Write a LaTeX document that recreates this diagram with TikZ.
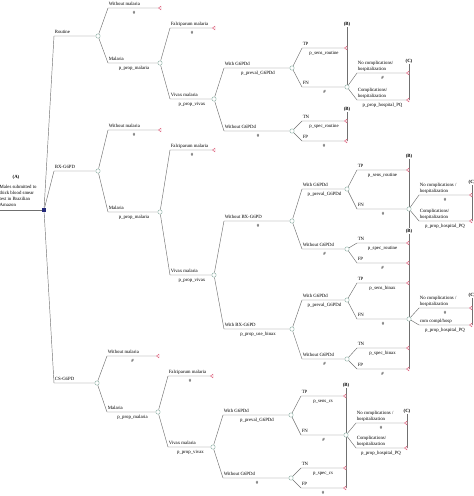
\documentclass[tikz,border=0pt]{standalone}
\usepackage{fontspec}
\setmainfont{Liberation Serif}
\usetikzlibrary{calc,shapes.geometric}
\pgfdeclarelayer{bg}
\pgfsetlayers{bg,main}
\definecolor{edgec}{HTML}{707070}
\definecolor{termc}{HTML}{D9506E}
\definecolor{chc}{HTML}{8FB0A6}
\definecolor{decc}{HTML}{23287A}
\newcommand\tsz{\fontsize{4.8}{5.6}\selectfont}
\tikzset{
 edge/.style={draw=edgec, line width=0.45pt},
 chance/.style={circle, draw=chc, fill=white, line width=0.45pt, inner sep=0pt, minimum size=4.4pt},
 term/.style={isosceles triangle, shape border rotate=180, isosceles triangle stretches, minimum width=3.6pt, minimum height=2.6pt, inner sep=0pt, outer sep=0pt, draw=termc, fill=white, line width=0.4pt, anchor=lower side},
 decis/.style={rectangle, fill=decc, inner sep=0pt, minimum size=4.4pt},
 lab/.style={anchor=south west, inner sep=0pt, text depth=0pt, font=\tsz, align=left},
 prob/.style={anchor=base, inner sep=0pt, font=\tsz},
 tag/.style={inner sep=0.6pt, fill=white, font=\tsz\bfseries}
}
\newcommand\br[6]{%
 \node[#3] (#2) at (#4) {};
 \coordinate (#2k) at ($(#1 |- #2)+(10,0)$);
 \begin{pgfonlayer}{bg}\draw[edge] (#1) -- (#2k) -- (#2);\end{pgfonlayer}
 \node[lab] at ($(#2k)+(0.6,-2.4)$) {#5};
 \node[prob] at ($(#2k)!0.5!(#2)+(0,6.4)$) {#6};
}
\begin{document}
\begin{tikzpicture}[x=1pt,y=-1pt]
\useasboundingbox (0,0) rectangle (474,496);
% root
\node[decis] (root) at (44,210) {};
\coordinate (in) at (0,210);
\begin{pgfonlayer}{bg}\draw[edge] (in) -- (root);\end{pgfonlayer}
\node[font=\tsz\bfseries, inner sep=0pt] (A) at (16,177) {(A)};
\node[anchor=north west, inner sep=0pt, font=\fontsize{4.8}{6.2}\selectfont, align=left] (Atext) at (-0.5,184.5) {Males submitted to\\thick blood smear\\test in Brazilian\\Amazon};
% level 1
\br{root}{R}{chance}{98,36}{Routine}{}
\br{root}{B}{chance}{98,171}{BX-G6PD}{}
\br{root}{C}{chance}{97,383}{CS-G6PD}{}
% ---------------- Routine
\br{R}{Rwm}{term}{161,8}{Without malaria}{\#}
\br{R}{Rm}{chance}{160,63}{Malaria}{p\_prop\_malaria}
\br{Rm}{Rf}{term}{215,28}{Falciparum malaria}{\#}
\br{Rm}{Rv}{chance}{214,99}{Vivax malaria}{p\_prop\_vivax}
\br{Rv}{Rwg}{chance}{292,68}{With G6PDd}{p\_preval\_G6PDd}
\br{Rv}{Rng}{chance}{292,131}{Without G6PDd}{\#}
\br{Rwg}{Rtp}{term}{347,48}{TP}{p\_sens\_routine}
\br{Rwg}{Rfn}{chance}{347,87}{FN}{\#}
\br{Rfn}{Rnc}{term}{409,73}{No complications/\\hospitalization}{\#}
\br{Rfn}{Rc}{term}{409,100}{Complications/\\hospitalization}{p\_prop\_hospital\_PQ}
\br{Rng}{Rtn}{term}{347,121}{TN}{p\_spec\_routine}
\br{Rng}{Rfp}{term}{347,141}{FP}{\#}
\node[tag] (RB1) at (347,24) {(B)};
\node[tag] (RB2) at (347,109) {(B)};
\node[tag] (RC1) at (409,61) {(C)};
\begin{pgfonlayer}{bg}
\draw[edge] (RB1) -- (Rfn);
\draw[edge] (RB2) -- (Rfp.lower side);
\draw[edge] (RC1) -- (Rc.lower side);
\end{pgfonlayer}
% ---------------- BX-G6PD
\br{B}{Bwm}{term}{161,130}{Without malaria}{\#}
\br{B}{Bm}{chance}{160,212}{Malaria}{p\_prop\_malaria}
\br{Bm}{Bf}{term}{215,150}{Falciparum malaria}{\#}
\br{Bm}{Bv}{chance}{214,275}{Vivax malaria}{p\_prop\_vivax}
\br{Bv}{Bwo}{chance}{292,221}{Without BX-G6PD}{\#}
\br{Bv}{Bwi}{chance}{292,329}{With BX-G6PD}{p\_prop\_use\_binax}
\br{Bwo}{Bowg}{chance}{347,189}{With G6PDd}{p\_preval\_G6PDd}
\br{Bwo}{Bong}{chance}{347,249}{Without G6PDd}{\#}
\br{Bowg}{Bttp}{term}{409,170}{TP}{p\_sens\_routine}
\br{Bowg}{Btfn}{chance}{409,209}{FN}{\#}
\br{Btfn}{Btnc}{term}{472,195}{No complications /\\hospitalization}{\#}
\br{Btfn}{Btc}{term}{472,221}{Complications/\\hospitalization}{p\_prop\_hospital\_PQ}
\br{Bong}{Bttn}{term}{409,243}{TN}{p\_spec\_routine}
\br{Bong}{Btfp}{term}{409,263}{FP}{\#}
\br{Bwi}{Biwg}{chance}{347,300}{With G6PDd}{p\_preval\_G6PDd}
\br{Bwi}{Bing}{chance}{347,359}{Without G6PDd}{\#}
\br{Biwg}{Bstp}{term}{409,283}{TP}{p\_sens\_binax}
\br{Biwg}{Bsfn}{chance}{409,319}{FN}{\#}
\br{Bsfn}{Bsnc}{term}{472,308}{No complications /\\hospitalization}{\#}
\br{Bsfn}{Bsc}{term}{472,325}{com compl/hosp}{p\_prop\_hospital\_PQ}
\br{Bing}{Bstn}{term}{409,348}{TN}{p\_spec\_binax}
\br{Bing}{Bsfp}{term}{409,369}{FP}{\#}
\node[tag] (BB1) at (409,156) {(B)};
\node[tag] (BB2) at (409,231) {(B)};
\node[tag] (BC1) at (472,182) {(C)};
\node[tag] (BC2) at (472,295) {(C)};
\begin{pgfonlayer}{bg}
\draw[edge] (BB1) -- (Bsfp.lower side);
\draw[edge] (BC1) -- (Btc.lower side);
\draw[edge] (BC2) -- (Bsc.lower side);
\end{pgfonlayer}
% ---------------- CS-G6PD
\br{C}{Cwm}{term}{159,356}{Without malaria}{\#}
\br{C}{Cm}{chance}{158,412}{Malaria}{p\_prop\_malaria}
\br{Cm}{Cf}{term}{213,376}{Falciparum malaria}{\#}
\br{Cm}{Cv}{chance}{213,447}{Vivax malaria}{p\_prop\_vivax}
\br{Cv}{Cwg}{chance}{291,415}{With G6PDd}{p\_preval\_G6PDd}
\br{Cv}{Cng}{chance}{291,478}{Without G6PDd}{\#}
\br{Cwg}{Ctp}{term}{346,396}{TP}{p\_sens\_cs}
\br{Cwg}{Cfn}{chance}{346,435}{FN}{\#}
\br{Cfn}{Cnc}{term}{407,423}{No complications /\\hospitalization}{\#}
\br{Cfn}{Cc}{term}{407,448}{Complications/\\hospitalization}{p\_prop\_hospital\_PQ}
\br{Cng}{Ctn}{term}{346,468}{TN}{p\_spec\_cs}
\br{Cng}{Cfp}{term}{346,488}{FP}{\#}
\node[tag] (CB1) at (346,385) {(B)};
\node[tag] (CC1) at (407,411) {(C)};
\begin{pgfonlayer}{bg}
\draw[edge] (CB1) -- (Cfp.lower side);
\draw[edge] (CC1) -- (Cc.lower side);
\end{pgfonlayer}
\end{tikzpicture}
\end{document}
